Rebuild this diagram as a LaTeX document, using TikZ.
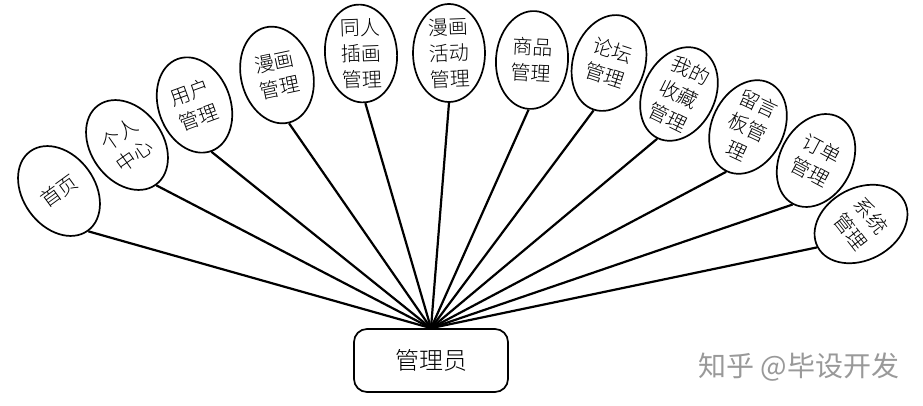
\documentclass[tikz,border=0pt]{standalone}
\usepackage{fontspec}
\setmainfont{Noto Sans CJK SC Light}
\newfontfamily\wmfont{Noto Sans CJK SC}
\usetikzlibrary{shapes.geometric}
\tikzset{
  x=1pt,y=-1pt,
  oval/.style={draw=black,line width=1.7pt,fill=white,ellipse,inner sep=0pt,minimum width=72pt,minimum height=98pt},
  otext/.style={inner sep=0pt,align=center,font=\fontsize{20}{26}\selectfont,text=black},
  boss/.style={draw=black,line width=1.7pt,fill=white,rounded corners=13pt,minimum width=154pt,minimum height=63pt,inner sep=0pt,font=\fontsize{24}{28}\selectfont},
  link/.style={draw=black,line width=2.2pt},
  wm/.style={inner sep=0pt,text=black!40,font=\wmfont\fontsize{28}{30}\selectfont}
}
\begin{document}
\begin{tikzpicture}
\useasboundingbox (0,0) rectangle (923,406);
\node[boss] (m) at (431,360.5) {管理员};
\foreach \n/\cx/\cy/\r/\tr/\t in {
  a/59/191/36/36/首页,
  b/127/145/36/35/个人\\中心,
  c/194.5/105/20/20/用户\\管理,
  d/277/75/14/12/漫画\\管理,
  e/361/53.5/5/2/同人\\插画\\管理,
  f/449/53/0/2/漫画\\活动\\管理,
  g/532/60/-4/-3/商品\\管理,
  h/609/63/-18/-18/论坛\\管理,
  i/679/94/-26/-26/我的\\收藏\\管理,
  j/748/127/-26/-25/留言\\板管\\理,
  k/816/160.5/-28/-28/订单\\管理,
  l/861/224/-62/-52/系统\\管理}{
  \node[oval,rotate=\r] (\n) at (\cx,\cy) {};
  \node[otext,rotate=\tr] (\n t) at (\cx,\cy) {\t};
  \draw[link] (\n.south) -- (m.north);
}
\node[wm] (w) at (799,367) {知乎 @毕设开发};
\end{tikzpicture}
\end{document}
